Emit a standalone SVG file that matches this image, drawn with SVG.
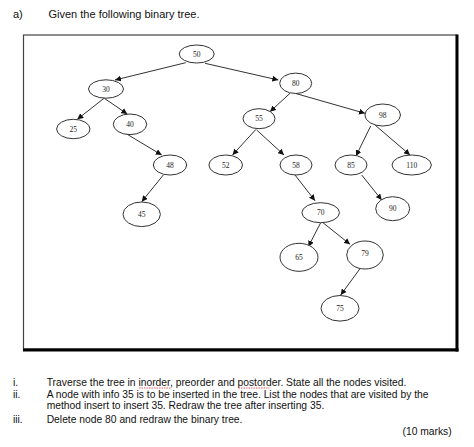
<svg xmlns="http://www.w3.org/2000/svg" width="474" height="447" viewBox="0 0 474 447">
<style>
.t{font-family:"Liberation Sans",Arial,sans-serif;fill:#111}
.q{font-size:10.3px}
.n ellipse{fill:#fff;stroke:#333;stroke-width:1}
.n text{font-family:"Liberation Serif","Times New Roman",serif;font-size:7.5px;fill:#222;text-anchor:middle}
.e line{stroke:#333;stroke-width:1;marker-end:url(#ah)}
</style>
<defs>
<marker id="ah" markerUnits="userSpaceOnUse" markerWidth="7" markerHeight="6" refX="6" refY="3" orient="auto">
<path d="M0,0 L6,3 L0,6 z" fill="#111"/>
</marker>
</defs>
<rect width="474" height="447" fill="#fff"/>
<text class="t" x="13" y="18" font-size="11">a)</text>
<text class="t" x="48.5" y="18" font-size="11">Given the following binary tree.</text>
<rect x="23.5" y="35" width="433" height="314" fill="#fff" stroke="#444" stroke-width="1.2"/>
<line x1="457" y1="34.5" x2="457" y2="351.5" stroke="#000" stroke-width="3"/>
<line x1="23" y1="350" x2="458.5" y2="350" stroke="#000" stroke-width="3"/>
<g id="connectors" class="e">
<line x1="185.7" y1="62.7" x2="115" y2="80"/>
<line x1="205" y1="63.3" x2="278.3" y2="80"/>
<line x1="104" y1="98.3" x2="77.3" y2="119.3"/>
<line x1="104.3" y1="98.3" x2="127.3" y2="114"/>
<line x1="126.7" y1="134" x2="161.7" y2="155"/>
<line x1="163.3" y1="175" x2="141.7" y2="201.7"/>
<line x1="290" y1="93.3" x2="270" y2="111.7"/>
<line x1="295" y1="93.3" x2="365" y2="113.3"/>
<line x1="256" y1="129.3" x2="232.5" y2="155"/>
<line x1="256.7" y1="130" x2="284" y2="155"/>
<line x1="370.7" y1="126" x2="356" y2="156"/>
<line x1="375" y1="125" x2="410" y2="155"/>
<line x1="295" y1="175" x2="315" y2="200.7"/>
<line x1="361.7" y1="175" x2="381.7" y2="200"/>
<line x1="320.7" y1="222.7" x2="308.3" y2="246.7"/>
<line x1="321.7" y1="221.7" x2="350" y2="244.3"/>
<line x1="361" y1="267.3" x2="340.7" y2="295"/>
</g>
<g id="n50" class="n"><ellipse cx="196.7" cy="54" rx="17.5" ry="9"/><text x="196.7" y="56.6">50</text></g>
<g id="n30" class="n"><ellipse cx="106" cy="89" rx="17.5" ry="9.2"/><text x="106" y="91.6">30</text></g>
<g id="n80" class="n"><ellipse cx="295.7" cy="83.3" rx="16" ry="10.2"/><text x="295.7" y="85.9">80</text></g>
<g id="n25" class="n"><ellipse cx="73.3" cy="129" rx="16.7" ry="9.7"/><text x="73.3" y="131.6">25</text></g>
<g id="n40" class="n"><ellipse cx="130" cy="124.3" rx="16.7" ry="10.3"/><text x="130" y="126.9">40</text></g>
<g id="n55" class="n"><ellipse cx="259" cy="118.7" rx="16" ry="10"/><text x="259" y="121.3">55</text></g>
<g id="n98" class="n"><ellipse cx="382.7" cy="115" rx="17.8" ry="11"/><text x="382.7" y="117.6">98</text></g>
<g id="n48" class="n"><ellipse cx="170" cy="165" rx="16.7" ry="10"/><text x="170" y="167.6">48</text></g>
<g id="n52" class="n"><ellipse cx="225.7" cy="165" rx="16.8" ry="10"/><text x="225.7" y="167.6">52</text></g>
<g id="n58" class="n"><ellipse cx="296" cy="165" rx="16" ry="10"/><text x="296" y="167.6">58</text></g>
<g id="n85" class="n"><ellipse cx="351" cy="165" rx="16" ry="10"/><text x="351" y="167.6">85</text></g>
<g id="n110" class="n"><ellipse cx="411.7" cy="165" rx="19.7" ry="10"/><text x="411.7" y="167.6">110</text></g>
<g id="n45" class="n"><ellipse cx="141.7" cy="214.3" rx="18.7" ry="12.3"/><text x="141.7" y="216.9">45</text></g>
<g id="n70" class="n"><ellipse cx="320.7" cy="212.7" rx="18.8" ry="10"/><text x="320.7" y="215.3">70</text></g>
<g id="n90" class="n"><ellipse cx="392.7" cy="208.7" rx="17" ry="12"/><text x="392.7" y="211.3">90</text></g>
<g id="n65" class="n"><ellipse cx="299" cy="257.3" rx="19" ry="14"/><text x="299" y="259.9">65</text></g>
<g id="n79" class="n"><ellipse cx="365" cy="255" rx="18.3" ry="14"/><text x="365" y="255.6">79</text></g>
<g id="n75" class="n"><ellipse cx="340" cy="308.3" rx="19" ry="12.8"/><text x="340" y="310.9">75</text></g>
<text class="t q" x="13" y="386">i.</text>
<text class="t q" x="46.7" y="386">Traverse the tree in inorder, preorder and postorder. State all the nodes visited.</text>
<line x1="139" y1="388" x2="171" y2="388" stroke="#d33" stroke-width="0.8" stroke-dasharray="1.5,1"/>
<line x1="238.5" y1="388" x2="269.5" y2="388" stroke="#d33" stroke-width="0.8" stroke-dasharray="1.5,1"/>
<text class="t q" x="13" y="397.7">ii.</text>
<text class="t q" x="46.7" y="397.7">A node with info 35 is to be inserted in the tree. List the nodes that are visited by the</text>
<text class="t q" x="46.7" y="408.5">method insert to insert 35. Redraw the tree after inserting 35.</text>
<text class="t q" x="13" y="423.3">iii.</text>
<text class="t q" x="46.7" y="423.3">Delete node 80 and redraw the binary tree.</text>
<text class="t q" x="451.7" y="434.5" text-anchor="end">(10 marks)</text>
</svg>
